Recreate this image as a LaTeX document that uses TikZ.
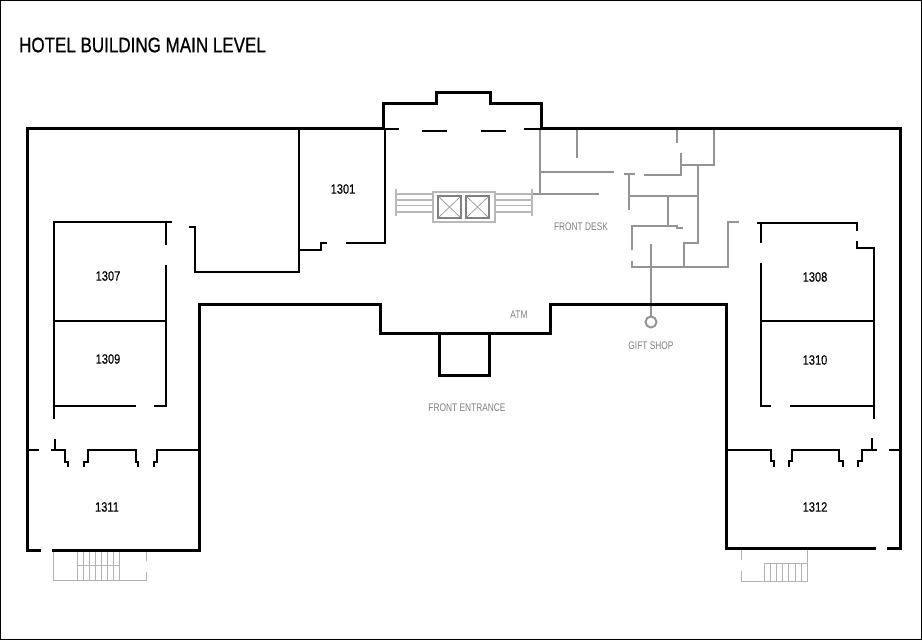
\documentclass[tikz,border=0pt]{standalone}
\usepackage{fontspec}
\setmainfont{Liberation Sans}
\newfontfamily\heavyfont{Liberation Sans}[FakeBold=0.35]
\newfontfamily\titlefont{Liberation Sans}[FakeBold=0.8]
\tikzset{
  outerwall/.style={draw=black,line width=3pt,miter limit=10},
  roomwall/.style={draw=black,line width=2pt},
  deskwall/.style={draw=black!42,line width=2pt},
  liftwall/.style={draw=black!28,line width=1.8pt},
  stairline/.style={draw=black!30,line width=1pt},
  roomlabel/.style={font=\heavyfont\fontsize{13.5}{15}\selectfont,text=black,inner sep=0pt,xscale=0.82},
  placelabel/.style={font=\fontsize{11}{13}\selectfont,text=black!50,inner sep=0pt,xscale=0.76},
  titlelabel/.style={font=\titlefont\fontsize{21}{24}\selectfont,text=black,inner sep=0pt,anchor=west,xscale=0.81}
}
\begin{document}
\begin{tikzpicture}[x=1pt,y=-1pt]
\useasboundingbox (0,0) rectangle (922,640);
\fill[white] (0,0) rectangle (922,640);
\draw[black,line width=1pt] (0.5,0.5) rectangle (921.5,639.5);
% stairs
\begin{scope}[stairline]
\draw (53,551) -- (53,580) -- (146,580) -- (146,572);
\draw (146,551) -- (146,561);
\foreach \x in {77.3,83.3,89,95,101,107,113,119.3} \draw (\x,551) -- (\x,580);
\draw (77,565) -- (119.3,565);
\draw (741,549) -- (741,560);
\draw (741,571) -- (741,581) -- (807,581) -- (807,549);
\draw (764,563) -- (807,563);
\foreach \x in {764,770.3,776.7,782.7,788.7,795,801} \draw (\x,563) -- (\x,581);
\end{scope}
% front desk partitions
\begin{scope}[deskwall]
\draw (540,128) -- (540,194);
\draw (540,172) -- (614,172);
\draw (532,194) -- (599,194);
\draw (577,128) -- (577,158);
\draw (677,128) -- (677,143);
\draw (714,128) -- (714,165) -- (681,165);
\draw (681,153) -- (681,175) -- (644,175);
\draw (624,174) -- (635,174);
\draw (629,174) -- (629,210);
\draw (629,196) -- (698,196);
\draw (698,165) -- (698,243) -- (684,243) -- (684,267);
\draw (632,261) -- (632,267) -- (728,267) -- (728,222) -- (739,222);
\draw (668,196) -- (668,226);
\draw (632,250) -- (632,226) -- (677,226) -- (677,228) -- (683,228);
\draw (651,244) -- (651,316.5);
\draw (651,322) circle[radius=5.5];
\end{scope}
% lift and rails
\begin{scope}[liftwall]
\draw (433,192) rectangle (495,222);
\draw[line width=1.2pt] (396,189) -- (396,216);
\draw[line width=1.2pt] (532,189) -- (532,216);
\foreach \y in {194,200,205.5,212} {
  \draw[line width=1.4pt] (396,\y) -- (433,\y);
  \draw[line width=1.4pt] (495,\y) -- (532,\y);
}
\end{scope}
\begin{scope}[draw=black!50,line width=1.6pt]
\draw (438,196) rectangle (461,218);
\draw (466,196) rectangle (489,218);
\end{scope}
\begin{scope}[draw=black!45,line width=0.6pt]
\draw (438,196) -- (461,218) (461,196) -- (438,218);
\draw (466,196) -- (489,218) (489,196) -- (466,218);
\end{scope}
% room walls
\begin{scope}[roomwall]
\draw (383,129) -- (399,129);
\draw (422,131) -- (447,131);
\draw (481,131) -- (506,131);
\draw (524,129) -- (541,129);
% 1301
\draw (385,128) -- (385,243) -- (346,243);
\draw (327,243) -- (321,243) -- (321,250) -- (299,250);
\draw (299,128) -- (299,272) -- (195,272) -- (195,227) -- (189,227);
% 1307 / 1309
\draw (54,419) -- (54,222) -- (172,222);
\draw (166,222) -- (166,245);
\draw (166,265) -- (166,406) -- (154,406);
\draw (54,321) -- (166,321);
\draw (54,406) -- (136,406);
% 1311
\draw (27,450) -- (39,450);
\draw (55,439) -- (55,450);
\draw (51,450) -- (65,450) -- (65,462) -- (68,462) -- (68,467);
\draw (84,467) -- (84,462) -- (88,462) -- (88,450) -- (136,450) -- (136,462) -- (138,462) -- (138,467);
\draw (154,467) -- (154,462) -- (157,462) -- (157,450) -- (199,450);
% 1308 / 1310
\draw (757,223) -- (857,223) -- (857,231);
\draw (761,223) -- (761,243);
\draw (857,241) -- (857,248) -- (874,248) -- (874,419);
\draw (771,406) -- (761,406) -- (761,263);
\draw (761,321) -- (874,321);
\draw (790,406) -- (874,406);
% 1312
\draw (726,450) -- (771,450) -- (771,461) -- (774,461) -- (774,467);
\draw (789,467) -- (789,461) -- (792,461) -- (792,450) -- (839,450) -- (839,461) -- (843,461) -- (843,467);
\draw (858,467) -- (858,461) -- (862,461) -- (862,450) -- (877,450);
\draw (872,438) -- (872,450);
\draw (889,450) -- (900,450);
\end{scope}
% outer wall
\draw[outerwall] (383,128) -- (383,103.5) -- (436,103.5) -- (436,92) -- (490,92) -- (490,103) -- (541,103) -- (541,128);
\draw[outerwall] (41,550) -- (27,550) -- (27,128) -- (383,128);
\draw[outerwall] (541,128) -- (900,128) -- (900,548) -- (887,548);
\draw[outerwall] (876,548) -- (726,548) -- (726,304) -- (550,304) -- (550,333) -- (380,333) -- (380,304) -- (199,304) -- (199,550) -- (52,550);
\draw[outerwall] (439,333) -- (439,375) -- (489,375) -- (489,333);
% labels
\node[titlelabel] (title) at (19,45) {HOTEL BUILDING MAIN LEVEL};
\node[roomlabel] (r1301) at (343,189) {1301};
\node[roomlabel] (r1307) at (108,276) {1307};
\node[roomlabel] (r1309) at (108,359) {1309};
\node[roomlabel] (r1311) at (107,507) {1311};
\node[roomlabel] (r1308) at (815,277) {1308};
\node[roomlabel] (r1310) at (815,360) {1310};
\node[roomlabel] (r1312) at (815,507) {1312};
\node[placelabel] (desk) at (581,226.5) {FRONT DESK};
\node[placelabel] (atm) at (519,314.5) {ATM};
\node[placelabel] (gift) at (651,345.5) {GIFT SHOP};
\node[placelabel] (entrance) at (467,407.5) {FRONT ENTRANCE};
\end{tikzpicture}
\end{document}
